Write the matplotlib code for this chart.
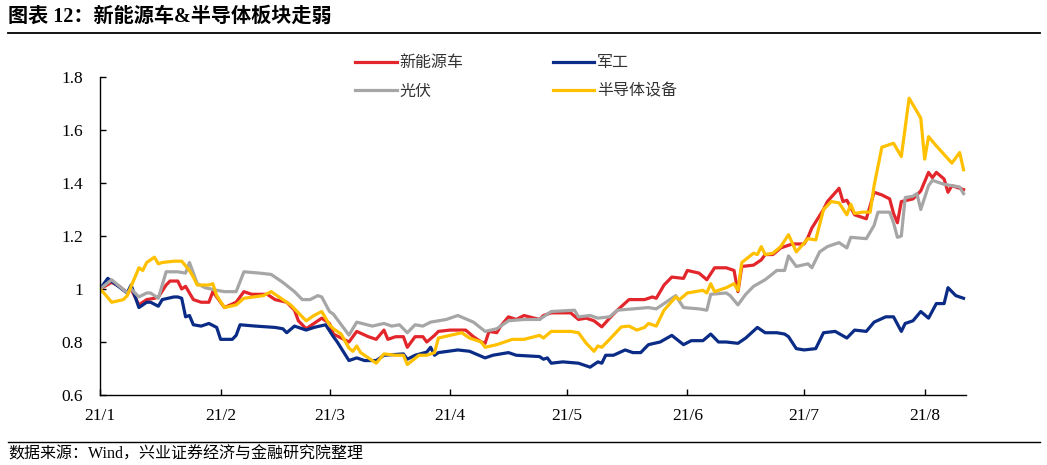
import pandas as pd
import matplotlib
matplotlib.use("Agg")
import matplotlib.pyplot as plt
import matplotlib.dates as mdates
from matplotlib.lines import Line2D
from matplotlib.ticker import FuncFormatter, MultipleLocator

# ---------------- data (day offsets from 2021-01-01, index values) ----------------
start = pd.Timestamp("2021-01-01")

nev_day = [0, 3, 5, 7, 8, 10, 12, 14, 15, 17, 18, 20, 21, 22, 24, 26, 28, 29, 30, 32,
           35, 37, 39, 43, 45, 48, 50, 51, 53, 55, 57, 59, 60, 64, 66, 69, 71, 73, 74, 76,
           78, 79, 81, 83, 84, 86, 87, 90, 94, 96, 98, 99, 100, 102, 103, 105, 107, 109, 113, 114,
           116, 121, 123, 125, 127, 129, 131, 133, 136, 140, 142, 143, 145, 147, 150, 151, 154, 156, 158, 161,
           163, 164, 165, 168, 170, 171, 173, 175, 178, 179, 181, 182, 183, 186, 187, 190, 191, 192, 194, 196,
           197, 199, 201, 203, 204, 205, 206, 209, 210, 211, 213, 214, 215, 217, 218, 219, 222]
nev_val = [1.00, 1.025, 1.01, 0.985, 1.00, 0.94, 0.96, 0.965, 0.97, 1.015, 1.03, 1.03, 1.00, 1.01, 0.96, 0.95, 0.95, 0.99, 0.97, 0.93,
           0.95, 0.99, 0.98, 0.98, 0.96, 0.95, 0.92, 0.88, 0.85, 0.87, 0.89, 0.87, 0.83, 0.80, 0.84, 0.82, 0.81, 0.845, 0.81, 0.82,
           0.82, 0.78, 0.82, 0.82, 0.80, 0.825, 0.84, 0.845, 0.845, 0.82, 0.80, 0.795, 0.84, 0.835, 0.86, 0.895, 0.885, 0.90, 0.885, 0.90,
           0.91, 0.91, 0.885, 0.89, 0.88, 0.857, 0.89, 0.92, 0.96, 0.96, 0.97, 0.965, 1.015, 1.045, 1.04, 1.07, 1.06, 1.035, 1.08, 1.08,
           1.07, 0.99, 1.085, 1.09, 1.11, 1.13, 1.13, 1.155, 1.17, 1.17, 1.17, 1.195, 1.23, 1.30, 1.33, 1.38, 1.33, 1.335, 1.28, 1.27,
           1.265, 1.365, 1.355, 1.34, 1.285, 1.25, 1.33, 1.34, 1.355, 1.37, 1.44, 1.42, 1.44, 1.415, 1.365, 1.39, 1.375]

mil_day = [0, 2, 7, 8, 10, 12, 13, 15, 16, 19, 20, 21, 22, 23, 24, 26, 28, 30, 31, 34,
           35, 36, 40, 45, 47, 48, 50, 51, 52, 53, 55, 58, 60, 61, 64, 66, 68, 71, 73, 78,
           79, 81, 84, 85, 86, 87, 92, 95, 99, 101, 105, 107, 113, 114, 115, 116, 119, 123, 126, 128,
           129, 130, 132, 135, 137, 139, 141, 144, 147, 150, 152, 155, 157, 159, 161, 164, 166, 169, 171, 174,
           176, 177, 179, 181, 184, 186, 189, 192, 194, 197, 199, 202, 204, 206, 207, 209, 211, 213, 215, 217,
           218, 220, 222]
mil_val = [1.00, 1.04, 0.985, 1.015, 0.93, 0.95, 0.95, 0.935, 0.96, 0.97, 0.97, 0.965, 0.895, 0.90, 0.865, 0.86, 0.87, 0.855, 0.81, 0.81,
           0.825, 0.865, 0.86, 0.855, 0.85, 0.835, 0.86, 0.855, 0.85, 0.845, 0.855, 0.865, 0.82, 0.80, 0.73, 0.74, 0.73, 0.73, 0.75, 0.755,
           0.735, 0.75, 0.762, 0.78, 0.75, 0.76, 0.77, 0.765, 0.74, 0.75, 0.76, 0.75, 0.745, 0.735, 0.74, 0.72, 0.725, 0.72, 0.705, 0.725,
           0.72, 0.75, 0.75, 0.77, 0.76, 0.76, 0.79, 0.80, 0.825, 0.79, 0.805, 0.805, 0.83, 0.80, 0.80, 0.795, 0.815, 0.855, 0.835, 0.835,
           0.83, 0.82, 0.775, 0.77, 0.775, 0.835, 0.84, 0.815, 0.845, 0.84, 0.875, 0.895, 0.895, 0.84, 0.87, 0.88, 0.915, 0.89, 0.945, 0.945,
           1.005, 0.975, 0.965]

pv_day = [0, 3, 7, 8, 10, 12, 13, 15, 17, 20, 22, 23, 24, 25, 27, 30, 32, 35, 37, 41,
          44, 47, 50, 52, 54, 56, 57, 59, 60, 64, 66, 70, 73, 75, 77, 79, 81, 83, 85, 89,
          92, 96, 99, 102, 105, 109, 113, 116, 122, 123, 126, 128, 131, 133, 137, 141, 143, 145, 148, 150,
          154, 156, 157, 161, 162, 164, 166, 168, 171, 174, 176, 177, 179, 182, 183, 185, 187, 190, 192, 193,
          197, 199, 200, 203, 204, 205, 206, 207, 209, 210, 211, 213, 214, 217, 219, 221, 222]
pv_val = [1.00, 1.035, 0.985, 1.00, 0.97, 0.985, 0.985, 0.965, 1.065, 1.065, 1.06, 1.10, 1.06, 1.02, 1.005, 0.995, 0.99, 0.99, 1.065, 1.06,
          1.055, 1.025, 0.99, 0.96, 0.96, 0.975, 0.97, 0.915, 0.905, 0.826, 0.875, 0.86, 0.87, 0.86, 0.865, 0.835, 0.865, 0.86, 0.875, 0.885,
          0.90, 0.875, 0.84, 0.85, 0.88, 0.885, 0.885, 0.915, 0.92, 0.895, 0.90, 0.89, 0.895, 0.92, 0.925, 0.93, 0.925, 0.945, 0.975, 0.93,
          0.925, 0.92, 0.98, 0.985, 0.975, 0.94, 0.98, 1.01, 1.035, 1.07, 1.07, 1.125, 1.085, 1.095, 1.08, 1.14, 1.16, 1.175, 1.155, 1.195,
          1.19, 1.24, 1.29, 1.29, 1.25, 1.195, 1.20, 1.345, 1.35, 1.36, 1.30, 1.39, 1.41, 1.395, 1.39, 1.385, 1.36]

semi_day = [0, 1, 3, 6, 7, 10, 11, 12, 14, 15, 16, 19, 21, 23, 24, 25, 28, 29, 30, 32,
            35, 37, 42, 44, 47, 49, 51, 53, 55, 57, 59, 60, 62, 64, 65, 66, 67, 71, 73, 76,
            78, 79, 82, 84, 86, 87, 90, 93, 95, 98, 99, 102, 106, 109, 113, 114, 116, 121, 123, 125,
            127, 128, 129, 131, 134, 136, 138, 140, 141, 143, 145, 148, 149, 151, 155, 156, 157, 158, 161, 163,
            164, 165, 168, 169, 170, 171, 173, 175, 177, 179, 182, 184, 186, 188, 190, 192, 193, 194, 196, 198,
            199, 201, 204, 206, 208, 211, 212, 213, 215, 219, 221, 222]
semi_val = [1.00, 0.985, 0.95, 0.96, 0.975, 1.08, 1.07, 1.10, 1.12, 1.095, 1.10, 1.105, 1.105, 1.07, 1.045, 1.015, 1.015, 1.02, 0.975, 0.93,
            0.94, 0.965, 0.975, 0.99, 0.96, 0.94, 0.91, 0.88, 0.90, 0.915, 0.865, 0.85, 0.83, 0.777, 0.765, 0.785, 0.76, 0.72, 0.755, 0.75,
            0.75, 0.715, 0.75, 0.75, 0.76, 0.815, 0.825, 0.835, 0.815, 0.80, 0.78, 0.79, 0.81, 0.81, 0.825, 0.815, 0.84, 0.84, 0.835, 0.795,
            0.765, 0.785, 0.78, 0.81, 0.857, 0.86, 0.845, 0.855, 0.87, 0.86, 0.92, 0.97, 0.96, 0.985, 0.995, 0.985, 1.02, 0.99, 1.005, 1.02,
            0.995, 1.10, 1.135, 1.13, 1.16, 1.13, 1.135, 1.16, 1.205, 1.14, 1.19, 1.185, 1.30, 1.33, 1.325, 1.28, 1.32, 1.285, 1.29, 1.29,
            1.39, 1.535, 1.55, 1.50, 1.72, 1.645, 1.49, 1.575, 1.54, 1.475, 1.515, 1.45]

names = ["新能源车", "军工", "光伏", "半导体设备"]
title = "图表 12：新能源车&半导体板块走弱"
source = "数据来源：Wind，兴业证券经济与金融研究院整理"

# ---------------- styling ----------------
colors = ["#E3262B", "#0B2C86", "#A6A6A6", "#FFC000"]
cjk = ["Liberation Serif", "Noto Sans CJK SC", "DejaVu Sans"]
plt.rcParams["font.family"] = cjk

W, H = 1047, 465
fig = plt.figure(figsize=(W / 100, H / 100), dpi=100)
ax = fig.add_axes([100 / W, 1 - 395 / H, (965.5 - 100) / W, (395 - 77) / H])

series = [(nev_day, nev_val), (mil_day, mil_val), (pv_day, pv_val), (semi_day, semi_val)]
lines = []
for (d, v), c, n in zip(series, colors, names):
    dates = start + pd.to_timedelta(d, unit="D")
    ln, = ax.plot(dates, v, color=c, lw=2.3, label=n, solid_joinstyle="round")
    lines.append(ln)

ax.set_ylim(0.6, 1.8)
ax.yaxis.set_major_locator(MultipleLocator(0.2))
ax.yaxis.set_major_formatter(FuncFormatter(lambda v, p: f"{v:g}"))
ax.set_xlim(start, start + pd.Timedelta(days=222.5))
ax.xaxis.set_major_locator(mdates.MonthLocator())
ax.xaxis.set_major_formatter(FuncFormatter(
    lambda x, p: f"{mdates.num2date(x).year % 100}/{mdates.num2date(x).month}"))

for s in ["top", "right"]:
    ax.spines[s].set_visible(False)
for s in ["left", "bottom"]:
    ax.spines[s].set_color("black")
    ax.spines[s].set_linewidth(1.0)
ax.tick_params(axis="both", direction="in", length=4, width=1.0, labelsize=12.5, colors="black")
ax.tick_params(axis="y", pad=12)
ax.tick_params(axis="x", pad=9)
for lab in ax.get_xticklabels() + ax.get_yticklabels():
    lab.set_fontfamily("Liberation Serif")

# legend: row 1 新能源车, 军工; row 2 光伏, 半导体设备
order = [0, 2, 1, 3]
leg = fig.legend([lines[i] for i in order], [names[i] for i in order],
                 loc="upper left", bbox_to_anchor=(341 / W, 1 - 40 / H), ncol=2,
                 frameon=False, handlelength=2.6, handletextpad=0.15,
                 columnspacing=5.6, labelspacing=0.72,
                 prop={"family": ["Noto Sans CJK SC", "DejaVu Sans"], "size": 11.5})
for t in leg.get_texts():
    t.set_color("#333333")

# title and source
fig.text(8 / W, 1 - 17 / H, title, fontsize=14.5, fontweight="bold", va="center", ha="left",
         family=["Liberation Serif", "Noto Sans CJK SC"])
fig.add_artist(Line2D([8 / W, 1040 / W], [1 - 33 / H] * 2, transform=fig.transFigure,
                      color="black", lw=1.3))
fig.add_artist(Line2D([8 / W, 1040 / W], [1 - 442 / H] * 2, transform=fig.transFigure,
                      color="black", lw=1.0))
fig.text(8 / W, 1 - 455 / H, source, fontsize=11.5, va="center", ha="left",
         family=["Liberation Serif", "Noto Sans CJK SC"])

fig.savefig("out.png", dpi=100)
